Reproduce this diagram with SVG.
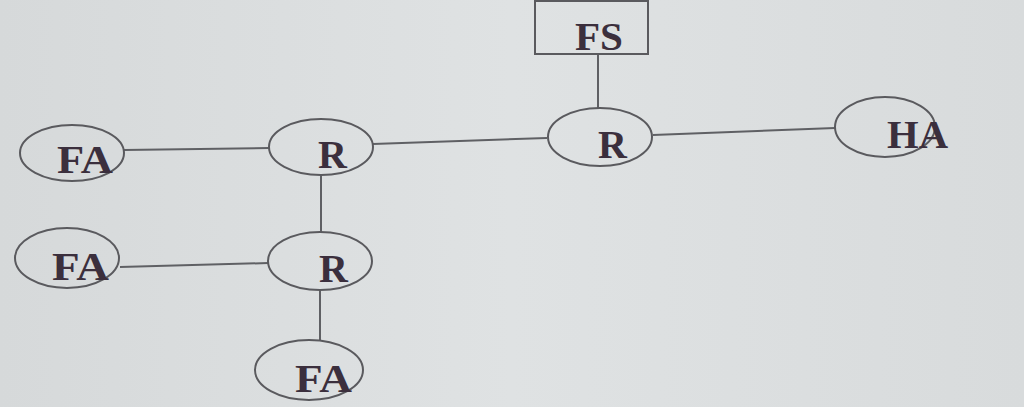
<svg xmlns="http://www.w3.org/2000/svg" width="1024" height="407" viewBox="0 0 1024 407">
<defs>
<linearGradient id="bg" x1="0" y1="0" x2="1" y2="0">
<stop offset="0" stop-color="#d6d9da"/>
<stop offset="0.5" stop-color="#dfe2e3"/>
<stop offset="1" stop-color="#d8dbdc"/>
</linearGradient>
</defs>
<style>
.shape{fill:none;stroke:#5a5a5e;stroke-width:2}
.lbl{font-family:"Liberation Serif","Times New Roman",serif;font-weight:bold;font-size:40px;fill:#3b2f3d}
.conn line{stroke:#5f6064;stroke-width:2}
</style>
<rect x="0" y="0" width="1024" height="407" fill="url(#bg)"/>
<g class="conn" id="connectors">
<line x1="124" y1="150" x2="269" y2="148"/>
<line x1="321" y1="175" x2="321" y2="232"/>
<line x1="120" y1="267" x2="268" y2="263"/>
<line x1="320" y1="290" x2="320" y2="340"/>
<line x1="373" y1="144" x2="547" y2="138"/>
<line x1="598" y1="54" x2="598" y2="108"/>
<line x1="653" y1="135" x2="835" y2="128"/>
</g>
<g id="fa1"><ellipse class="shape" cx="72" cy="153" rx="52" ry="28"/><text class="lbl" x="57" y="173" textLength="56" lengthAdjust="spacingAndGlyphs">FA</text></g>
<g id="r1"><ellipse class="shape" cx="321" cy="147" rx="52" ry="28"/><text class="lbl" x="318" y="168">R</text></g>
<g id="fa2"><ellipse class="shape" cx="67" cy="258" rx="52" ry="30"/><text class="lbl" x="52" y="280" textLength="57" lengthAdjust="spacingAndGlyphs">FA</text></g>
<g id="r2"><ellipse class="shape" cx="320" cy="261" rx="52" ry="29"/><text class="lbl" x="319" y="282">R</text></g>
<g id="fa3"><ellipse class="shape" cx="309" cy="370" rx="54" ry="30"/><text class="lbl" x="295" y="392" textLength="57" lengthAdjust="spacingAndGlyphs">FA</text></g>
<g id="fs"><rect class="shape" x="535" y="1" width="113" height="53"/><text class="lbl" x="575" y="50" textLength="48" lengthAdjust="spacingAndGlyphs">FS</text></g>
<g id="r3"><ellipse class="shape" cx="600" cy="137" rx="52" ry="29"/><text class="lbl" x="598" y="158">R</text></g>
<g id="ha"><ellipse class="shape" cx="885" cy="127" rx="50" ry="30"/><text class="lbl" x="887" y="148" textLength="61" lengthAdjust="spacingAndGlyphs">HA</text></g>
</svg>
